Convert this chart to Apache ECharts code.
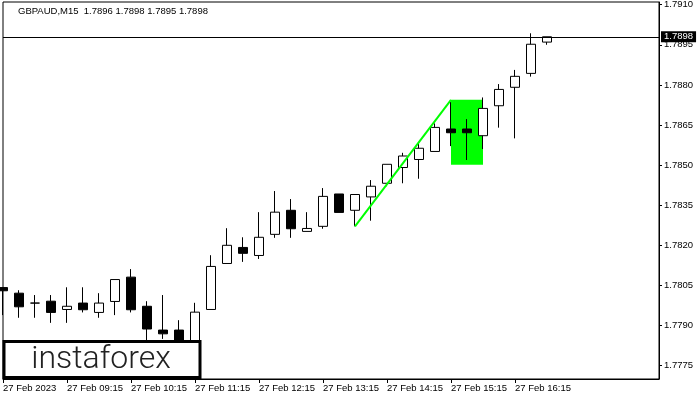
<!DOCTYPE html>
<html>
<head>
<meta charset="utf-8">
<style>html,body{margin:0;padding:0;background:#fff;}#c{width:700px;height:400px;}</style>
<script src="https://cdn.jsdelivr.net/npm/echarts@6/dist/echarts.min.js"></script>
</head>
<body>
<div id="c"></div>
<script>
// ---- data ----
const categories = ['08:15','08:30','08:45','09:00','09:15','09:30','09:45','10:00','10:15','10:30','10:45','11:00','11:15','11:30','11:45','12:00','12:15','12:30','12:45','13:00','13:15','13:30','13:45','14:00','14:15','14:30','14:45','15:00','15:15','15:30','15:45','16:00','16:15','16:30','16:45'];
const padSlots = ['17:00','17:15','17:30','17:45','18:00','18:15','18:30'];
const opens  = [1.78042,1.78021,1.77984,1.77991,1.77960,1.77984,1.77949,1.77990,1.78081,1.77972,1.77883,1.77883,1.77820,1.77960,1.78132,1.78192,1.78162,1.78241,1.78331,1.78252,1.78271,1.78392,1.78331,1.78381,1.78432,1.78491,1.78521,1.78551,1.78635,1.78635,1.78610,1.78722,1.78791,1.78843,1.7896];
const highs  = [1.78042,1.78032,1.78014,1.78014,1.78043,1.78043,1.78021,1.78072,1.78111,1.77991,1.78014,1.77920,1.77985,1.78163,1.78264,1.78230,1.78324,1.78403,1.78373,1.78324,1.78414,1.78392,1.78390,1.78444,1.78503,1.78546,1.78579,1.78656,1.78737,1.78672,1.78753,1.78803,1.78856,1.78993,1.7898];
const lows   = [1.77939,1.77929,1.77929,1.77910,1.77910,1.77949,1.77929,1.77939,1.77949,1.77826,1.77850,1.77800,1.77800,1.77960,1.78132,1.78138,1.78149,1.78228,1.78228,1.78252,1.78262,1.78323,1.78271,1.78292,1.78421,1.78432,1.78449,1.78551,1.78571,1.78519,1.78560,1.78640,1.78600,1.78831,1.7895];
const closes = [1.78030,1.77970,1.77984,1.77949,1.77972,1.77959,1.77984,1.78072,1.77959,1.77887,1.77869,1.77830,1.77950,1.78121,1.78200,1.78170,1.78230,1.78324,1.78262,1.78263,1.78383,1.78323,1.78390,1.78421,1.78503,1.78534,1.78563,1.78641,1.78621,1.78621,1.78712,1.78783,1.78832,1.78952,1.7898];
const yTicks = [1.7775,1.7790,1.7805,1.7820,1.7835,1.7850,1.7865,1.7880,1.7895,1.7910];
const xTickLabels = {'08:15':'27 Feb 2023','09:15':'27 Feb 09:15','10:15':'27 Feb 10:15','11:15':'27 Feb 11:15','12:15':'27 Feb 12:15','13:15':'27 Feb 13:15','14:15':'27 Feb 14:15','15:15':'27 Feb 15:15','16:15':'27 Feb 16:15'};
const currentPrice = 1.7898;
const titleText = 'GBPAUD,M15  1.7896 1.7898 1.7895 1.7898';
// pattern: rising line from bar 22 low to bar 28 high, flag box bars 28-30
const lineFrom = ['13:45', 1.78271];
const lineTo   = ['15:15', 1.78744];
const boxFrom  = ['15:15', 1.78744];
const boxTo    = ['15:45', 1.78501];

const FONT = 'Liberation Sans, Arial, sans-serif';
const xCats = categories.concat(padSlots);
const ohlc = categories.map((c, i) => [opens[i], closes[i], lows[i], highs[i]]);

const chart = echarts.init(document.getElementById('c'), null, {renderer: 'canvas'});
chart.setOption({
  animation: false,
  backgroundColor: '#fff',
  title: {
    text: titleText, left: 18, top: 6, padding: 0,
    textStyle: {fontSize: 9.5, fontWeight: 'normal', color: '#000', fontFamily: FONT}
  },
  grid: {left: 3, right: 41, top: 2, bottom: 21, show: true, borderColor: '#000', borderWidth: 1, containLabel: false, outerBoundsMode: 'none'},
  xAxis: {
    type: 'category', data: xCats, boundaryGap: false,
    axisLine: {show: true, lineStyle: {color: '#000', width: 1}},
    axisTick: {show: true, length: 4, lineStyle: {color: '#000'}, interval: (i, v) => v in xTickLabels},
    axisLabel: {
      show: true, interval: (i, v) => v in xTickLabels, formatter: v => xTickLabels[v] || '',
      align: 'left', margin: 4, color: '#000', fontSize: 9.5, fontFamily: FONT
    },
    splitLine: {show: false}
  },
  yAxis: {
    type: 'value', position: 'right', min: 1.7770, max: 1.7911, scale: true,
    axisLine: {show: true, lineStyle: {color: '#000', width: 1}},
    axisTick: {show: true, length: 3, lineStyle: {color: '#000'}, customValues: yTicks},
    axisLabel: {show: true, customValues: yTicks, formatter: v => v.toFixed(4), margin: 5, color: '#000', fontSize: 9.5, fontFamily: FONT},
    splitLine: {show: false}
  },
  series: [
    {
      type: 'line', z: 1, data: [], silent: true,
      markArea: {
        silent: true,
        itemStyle: {color: '#00ff00', opacity: 1},
        data: [[{xAxis: boxFrom[0], yAxis: boxFrom[1]}, {xAxis: boxTo[0], yAxis: boxTo[1]}]]
      }
    },
    {
      type: 'candlestick', z: 2, data: ohlc, barWidth: 10, clip: true,
      itemStyle: {color: '#fff', color0: '#000', borderColor: '#000', borderColor0: '#000', borderWidth: 1},
      markLine: {
        silent: true, symbol: ['none', 'none'], precision: 5,
        lineStyle: {color: '#000', width: 1, type: 'solid'},
        label: {
          show: true, position: 'end', distance: 2, formatter: () => currentPrice.toFixed(4),
          color: '#fff', backgroundColor: '#000', padding: [1, 3, 0, 3], fontSize: 9.5, fontFamily: FONT
        },
        data: [{yAxis: currentPrice}]
      }
    },
    {
      type: 'line', z: 5, silent: true, symbol: 'none',
      lineStyle: {color: '#00ff00', width: 2},
      data: [lineFrom, lineTo]
    }
  ],
  graphic: [
    {
      type: 'rect', z: 100, shape: {x: 4, y: 341.5, width: 196, height: 36},
      style: {fill: '#fff', stroke: '#000', lineWidth: 3}
    },
    {
      type: 'text', z: 101, x: 101, y: 359.5,
      style: {text: 'instaforex', fill: '#222', font: '300 32px Roboto, Lato, sans-serif', align: 'center', verticalAlign: 'middle'}
    }
  ]
});
</script>
</body>
</html>
